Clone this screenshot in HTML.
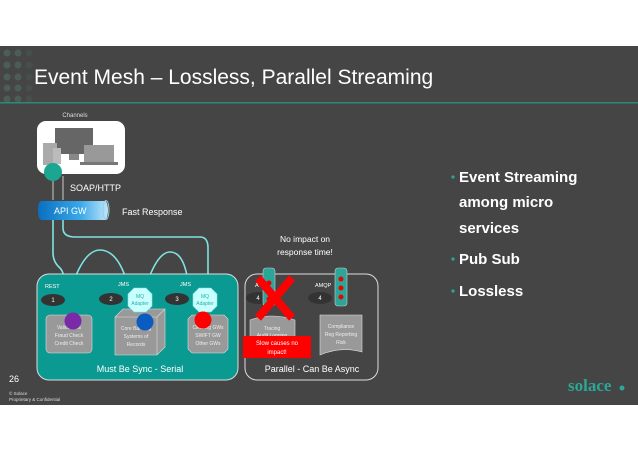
<!DOCTYPE html>
<html><head><meta charset="utf-8"><style>
html,body{margin:0;padding:0;background:#fff;}
svg{display:block;}
text{font-family:"Liberation Sans",sans-serif;}
text.serif{font-family:"Liberation Serif",serif;}
</style></head><body>
<svg width="638" height="452" viewBox="0 0 638 452" xmlns="http://www.w3.org/2000/svg">
<defs>
<linearGradient id="gw" x1="0" x2="1"><stop offset="0" stop-color="#0a6fc0"/><stop offset="0.6" stop-color="#39a8e8"/><stop offset="1" stop-color="#bfe6fb"/></linearGradient>
</defs>
<rect x="0" y="46" width="638" height="359" fill="#454545"/>
<g fill="#4a5e57">
<circle cx="7" cy="53" r="3.5"/><circle cx="18" cy="53" r="3.5"/><circle cx="29" cy="53" r="3.5" opacity="0.4"/>
<circle cx="7" cy="65" r="3.5"/><circle cx="18" cy="65" r="3.5"/><circle cx="29" cy="65" r="3.5" opacity="0.4"/>
<circle cx="7" cy="77" r="3.5"/><circle cx="18" cy="77" r="3.5"/><circle cx="29" cy="77" r="3.5" opacity="0.4"/>
<circle cx="7" cy="88" r="3.5"/><circle cx="18" cy="88" r="3.5"/><circle cx="29" cy="88" r="3.5" opacity="0.4"/>
<circle cx="7" cy="99" r="3.5"/><circle cx="18" cy="99" r="3.5"/><circle cx="29" cy="99" r="3.5" opacity="0.4"/>
</g>
<rect x="0" y="102" width="638" height="1.5" fill="#2a8a78"/>
<text x="34" y="84" font-size="21" fill="#fff">Event Mesh – Lossless, Parallel Streaming</text>
<text x="75" y="117" font-size="6" fill="#ddd" text-anchor="middle">Channels</text>
<rect x="37" y="121" width="88" height="53" rx="9" fill="#fff"/>
<rect x="55" y="128" width="38" height="26" fill="#666"/><rect x="69" y="154" width="10" height="6" fill="#888"/>
<rect x="43" y="143" width="14" height="22" fill="#aaa"/><rect x="84" y="145" width="30" height="18" fill="#999"/><rect x="80" y="162" width="38" height="3" fill="#777"/>
<rect x="53" y="148" width="8" height="16" fill="#bbb"/>
<g fill="none" stroke="#7fe3e3" stroke-width="1.6">
<path d="M53 220 V253 Q53 262 60 268 Q65 273 65 290 V318"/>
<path d="M63 220 V228 Q63 237 75 237 H200 Q208 237 208 248 V283"/>
<path d="M73 283 Q85 250 100 250 Q118 250 128 285"/>
<path d="M147 283 Q158 252 170 252 Q184 252 188 282"/>
</g>
<g stroke="#ccc" stroke-width="1"><line x1="53" y1="176" x2="53" y2="200"/><line x1="63" y1="176" x2="63" y2="200"/></g>
<circle cx="53" cy="172" r="9" fill="#1aa690"/>
<text x="70" y="191" font-size="9" fill="#fff">SOAP/HTTP</text>
<path d="M42 201 H106 Q110 210 106 220 H42 Q38 220 38 210 Q38 201 42 201Z" fill="url(#gw)"/>
<ellipse cx="106" cy="210" rx="3" ry="9.5" fill="none" stroke="#9cd" stroke-width="1"/>
<text x="54" y="214" font-size="9" fill="#fff">API GW</text>
<text x="122" y="215" font-size="9" fill="#fff">Fast Response</text>
<rect x="37" y="274" width="201" height="106" rx="12" fill="#0b9a92" stroke="#ddd" stroke-width="1"/>
<rect x="245" y="274" width="133" height="106" rx="12" fill="none" stroke="#ddd" stroke-width="1"/>
<text x="140" y="372" font-size="9" fill="#fff" text-anchor="middle">Must Be Sync - Serial</text>
<text x="312" y="372" font-size="9" fill="#fff" text-anchor="middle">Parallel - Can Be Async</text>
<g font-size="5.5" fill="#fff">
<text x="45" y="288">REST</text><text x="118" y="286">JMS</text><text x="180" y="286">JMS</text><text x="315" y="287">AMQP</text><text x="255" y="287">A</text>
</g>
<g fill="#333"><ellipse cx="53" cy="300" rx="12" ry="6"/><ellipse cx="111" cy="299" rx="12" ry="6"/><ellipse cx="177" cy="299" rx="12" ry="6"/><ellipse cx="258" cy="298" rx="12" ry="6"/><ellipse cx="320" cy="298" rx="12" ry="6"/></g>
<g font-size="6" fill="#fff" text-anchor="middle"><text x="53" y="302">1</text><text x="111" y="301">2</text><text x="177" y="301">3</text><text x="258" y="300">4</text><text x="320" y="300">4</text></g>
<rect x="46" y="315" width="46" height="38" rx="4" fill="#999" stroke="#ddd" stroke-width="0.6"/>
<path d="M115 317 L123 309 H165 V347 L157 355 H115Z" fill="#999" stroke="#ddd" stroke-width="0.6"/>
<path d="M115 317 H157 V355 M157 317 L165 309" fill="none" stroke="#ddd" stroke-width="0.6"/>
<path d="M192 315 H224 L228 319 V349 L224 353 H192 L188 349 V319Z" fill="#999" stroke="#ddd" stroke-width="0.6"/>
<g font-size="5" fill="#eee" text-anchor="middle">
<text x="69" y="329">Validations</text><text x="69" y="337">Fraud Check</text><text x="69" y="345">Credit Check</text>
<text x="136" y="330">Core Banking</text><text x="136" y="338">Systems of</text><text x="136" y="346">Records</text>
<text x="208" y="329">Clearing GWs</text><text x="208" y="337">SWIFT GW</text><text x="208" y="345">Other GWs</text>
</g>
<g fill="#c8ffff" stroke="#7fe3e3" stroke-width="0.6">
<path d="M134 288 H146 L152 294 V306 L146 312 H134 L128 306 V294Z"/>
<path d="M199 288 H211 L217 294 V306 L211 312 H199 L193 306 V294Z"/>
</g>
<g font-size="5" fill="#3aa" text-anchor="middle"><text x="140" y="298">MQ</text><text x="140" y="305">Adapter</text><text x="205" y="298">MQ</text><text x="205" y="305">Adapter</text></g>
<circle cx="73" cy="321" r="8.5" fill="#7a2aa8"/>
<circle cx="145" cy="322" r="8.5" fill="#0b5cc0"/>
<circle cx="203" cy="320" r="8.5" fill="#f00"/>
<path d="M250 320 Q272 312 295 320 V352 Q272 358 250 352Z" fill="#999" stroke="#ddd" stroke-width="0.6"/>
<path d="M320 315 H362 V352 Q341 346 320 355Z" fill="#999" stroke="#ddd" stroke-width="0.6"/>
<g font-size="5" fill="#eee" text-anchor="middle">
<text x="272" y="330">Tracing</text><text x="272" y="337">Audit Logging</text>
<text x="341" y="328">Compliance</text><text x="341" y="336">Reg Reporting</text><text x="341" y="344">Risk</text>
</g>
<g><rect x="263" y="268" width="12" height="38" rx="3" fill="#2aa798" stroke="#ccc" stroke-width="0.6"/><circle cx="269" cy="283" r="2.5" fill="#e00"/><circle cx="269" cy="291" r="2.5" fill="#e00"/><circle cx="269" cy="299" r="2.5" fill="#e00"/>
<rect x="335" y="268" width="12" height="38" rx="3" fill="#2aa798" stroke="#ccc" stroke-width="0.6"/><circle cx="341" cy="279" r="2.5" fill="#e00"/><circle cx="341" cy="288" r="2.5" fill="#e00"/><circle cx="341" cy="297" r="2.5" fill="#e00"/></g>
<g stroke="#f00" stroke-width="8"><line x1="258" y1="278" x2="292" y2="318"/><line x1="292" y1="278" x2="258" y2="318"/></g>
<rect x="243" y="336" width="68" height="22" fill="#f00"/>
<text x="277" y="345" font-size="6" fill="#fff" text-anchor="middle">Slow causes no</text>
<text x="277" y="354" font-size="6" fill="#fff" text-anchor="middle">impact!</text>
<text x="305" y="242" font-size="8.5" fill="#fff" text-anchor="middle">No impact on</text>
<text x="305" y="255" font-size="8.5" fill="#fff" text-anchor="middle">response time!</text>
<g font-size="15" font-weight="bold" fill="#fff">
<text x="459" y="182">Event Streaming</text><text x="459" y="207">among micro</text><text x="459" y="233">services</text>
<text x="459" y="264">Pub Sub</text><text x="459" y="296">Lossless</text>
</g>
<g fill="#2aa798"><circle cx="453" cy="177" r="1.6"/><circle cx="453" cy="259" r="1.6"/><circle cx="453" cy="291" r="1.6"/></g>
<text class="serif" x="568" y="391" font-size="17" font-weight="bold" fill="#2aa798">solace</text>
<circle cx="622" cy="388" r="2.5" fill="#2aa798"/>
<text x="9" y="382" font-size="9" fill="#fff">26</text>
<text x="9" y="395" font-size="4.5" fill="#ddd">© Solace</text>
<text x="9" y="401" font-size="4.5" fill="#ddd">Proprietary &amp; Confidential</text>
</svg>
</body></html>
